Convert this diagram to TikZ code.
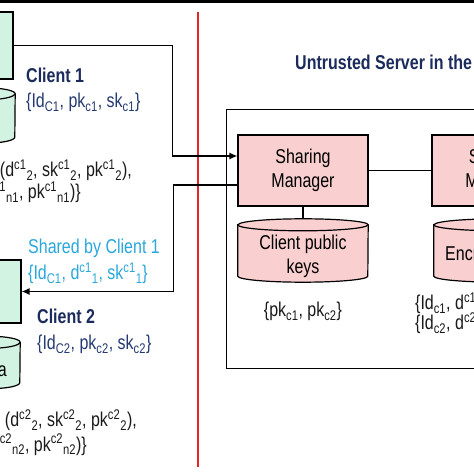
\documentclass[tikz,border=0pt]{standalone}
\usepackage{fontspec}
\setmainfont[FakeStretch=0.8]{Liberation Sans}
\usetikzlibrary{arrows.meta,calc}
\definecolor{cnavy}{HTML}{1B2B5C}
\definecolor{ckey}{HTML}{253A72}
\definecolor{ccyan}{HTML}{2AA7DC}
\definecolor{cmint}{HTML}{D2F2E2}
\definecolor{cpink}{HTML}{F9CFCF}
\definecolor{cred}{HTML}{E3262A}
\definecolor{cdark}{HTML}{1A1A1A}
\newcommand\lsub[1]{\textsubscript{#1}}
\newcommand\lsup[1]{\textsuperscript{#1}}
\newcommand\drawcyl[3]{%
  \filldraw[line width=1.2pt, fill=#3] ($(#1.north west)+(0,-6)$) -- ($(#1.south west)+(0,6)$)
    arc[start angle=180,end angle=360,x radius=#2,y radius=6pt]
    -- ($(#1.north east)+(0,-6)$)
    arc[start angle=0,end angle=180,x radius=#2,y radius=6pt] -- cycle;
  \draw[line width=1.2pt] ($(#1.north west)+(0,-6)$)
    arc[start angle=180,end angle=360,x radius=#2,y radius=6pt];}
\begin{document}
\begin{tikzpicture}[x=1pt,y=1pt,
  txt/.style={inner sep=0pt, font=\fontsize{20}{24}\selectfont},
  boldlab/.style={txt, font=\fontsize{20}{24}\selectfont\bfseries, text=cnavy},
  keylab/.style={txt, text=ckey},
  datalab/.style={txt, text=cdark},
  sharelab/.style={txt, text=ccyan},
  gbox/.style={draw, line width=1.2pt, fill=cmint, inner sep=0pt},
  pbox/.style={draw, line width=1.2pt, fill=cpink, inner sep=0pt, align=center,
    minimum width=130pt, minimum height=71pt, font=\fontsize{20}{24}\selectfont},
  cylnode/.style={inner sep=0pt, draw=none},
  srvbox/.style={draw, line width=1.2pt, inner sep=0pt},
  conn/.style={line width=1.3pt, black},
  arr/.style={conn, -{Latex[length=8pt,width=7pt]}}]
\useasboundingbox (0,0) rectangle (474,474);
\clip (0,0) rectangle (474,474);
\fill[white] (0,0) rectangle (474,474);
\fill[black] (0,471) rectangle (474,474);

% divider
\draw[cred, line width=2.2pt] (198,7) -- (198,462);

% server area
\node[srvbox, anchor=south west, minimum width=290pt, minimum height=259pt] (srv) at (226,105) {};
\node[boldlab, anchor=base west] (ttl) at (295,404) {Untrusted Server in the};
\node[pbox] (sm) at (303,303.5) {Sharing\\Manager};
\node[pbox] (stm) at (497,303.5) {Storage\\Manager};
\node[cylnode, minimum width=130pt, minimum height=63pt] (cpk) at (303,223.5) {};
\drawcyl{cpk}{65pt}{cpink}
\node[txt, align=center] (cpkt) at (303,218) {Client public\\keys};
\node[cylnode, minimum width=130pt, minimum height=63pt] (enc) at (499,223.5) {};
\drawcyl{enc}{65pt}{cpink}
\node[txt] (enct) at (499,219) {Encrypted data};
\node[datalab, anchor=base] (pks) at (303,157) {\{pk\lsub{c1}, pk\lsub{c2}\}};
\node[datalab, anchor=base west] (enc1) at (415,164) {\{Id\lsub{c1}, d\lsup{c1}};
\node[datalab, anchor=base west] (enc2) at (415,144) {\{Id\lsub{c2}, d\lsup{c2}};
\draw[conn] (sm.east) -- (stm.west);
\draw[conn] (sm.south) -- (cpk.north);

% client 1
\node[gbox, minimum width=60pt, minimum height=67pt] (c1) at (-17,428.5) {};
\node[cylnode, minimum width=60pt, minimum height=55pt] (c1db) at (-15,358.5) {};
\drawcyl{c1db}{30pt}{cmint}
\node[boldlab, anchor=base west] (c1l) at (26,391) {Client 1};
\node[keylab, anchor=base west] (c1k) at (26,366) {\{Id\lsub{C1}, pk\lsub{c1}, sk\lsub{c1}\}};
\node[datalab, anchor=base east] (c1d1) at (132,297) {(d\lsup{c1}\lsub{2}, sk\lsup{c1}\lsub{2}, pk\lsup{c1}\lsub{2}),};
\node[datalab, anchor=base east] (c1d2) at (81,275) {sk\lsup{c1}\lsub{n1}, pk\lsup{c1}\lsub{n1})\}};

% client 2
\node[gbox, minimum width=60pt, minimum height=63pt] (c2) at (-9,182.5) {};
\node[cylnode, minimum width=60pt, minimum height=52pt] (c2db) at (-10,111.5) {};
\drawcyl{c2db}{30pt}{cmint}
\node[txt, anchor=base] (c2dbt) at (-10,97) {Data};
\node[sharelab, anchor=base west] (sh1) at (28,220) {Shared by Client 1};
\node[sharelab, anchor=base west] (sh2) at (28,194) {\{Id\lsub{C1}, d\lsup{c1}\lsub{1}, sk\lsup{c1}\lsub{1}\}};
\node[boldlab, anchor=base west] (c2l) at (37,150) {Client 2};
\node[keylab, anchor=base west] (c2k) at (37,124) {\{Id\lsub{C2}, pk\lsub{c2}, sk\lsub{c2}\}};
\node[datalab, anchor=base east] (c2d1) at (137,47) {), (d\lsup{c2}\lsub{2}, sk\lsup{c2}\lsub{2}, pk\lsup{c2}\lsub{2}),};
\node[datalab, anchor=base east] (c2d2) at (87,23) {sk\lsup{c2}\lsub{n2}, pk\lsup{c2}\lsub{n2})\}};

% connectors
\draw[arr] (c1.east) -- ++(159,0) |- ([yshift=14.5pt]sm.west);
\draw[arr] ([yshift=-14.5pt]sm.west) -- ++(-64,0) |- (c2.east);
\end{tikzpicture}
\end{document}
